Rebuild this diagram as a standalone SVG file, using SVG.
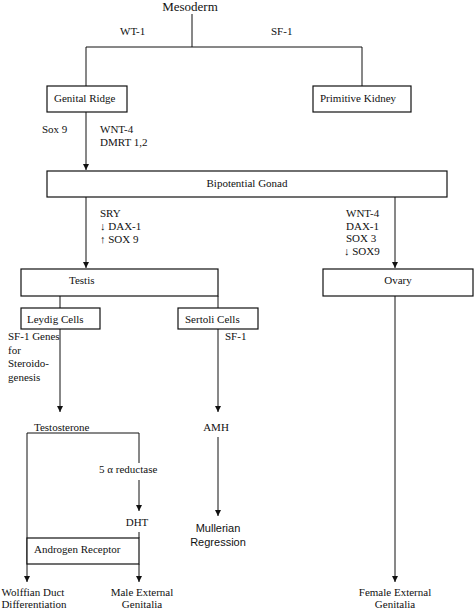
<svg xmlns="http://www.w3.org/2000/svg" width="474" height="611" viewBox="0 0 474 611">
<defs>
<style>
text{font-family:"Liberation Serif","Times New Roman",serif;font-size:11px;fill:#111}
.big{font-size:13px}
.sans{font-family:"Liberation Sans",Arial,sans-serif;font-size:11px}
.m{text-anchor:middle}
.box{fill:#fff;stroke:#111;stroke-width:1.2}
.ln{fill:none;stroke:#111;stroke-width:1}
</style>
<marker id="ah" markerUnits="userSpaceOnUse" markerWidth="6" markerHeight="7" refX="6" refY="3" orient="auto">
<path d="M0,0 L6,3 L0,6 z" fill="#111"/>
</marker>
</defs>
<rect width="474" height="611" fill="#fff"/>

<g id="connectors">
<path class="ln" d="M192,14 V47 M86,47 H362 M86,47 V86 M362,47 V86"/>
<path class="ln" d="M86,112 V170" marker-end="url(#ah)"/>
<path class="ln" d="M86,197 V268" marker-end="url(#ah)"/>
<path class="ln" d="M395,197 V268" marker-end="url(#ah)"/>
<path class="ln" d="M60,296 V308 M218,296 V308"/>
<path class="ln" d="M60,329 V412" marker-end="url(#ah)"/>
<path class="ln" d="M218,329 V412" marker-end="url(#ah)"/>
<path class="ln" d="M218,437 V516" marker-end="url(#ah)"/>
<path class="ln" d="M395,296 V582" marker-end="url(#ah)"/>
<path class="ln" d="M27,433 H139 M139,433 V463"/>
<path class="ln" d="M139,480 V511" marker-end="url(#ah)"/>
<path class="ln" d="M139,532 V538"/>
<path class="ln" d="M27,433 V582" marker-end="url(#ah)"/>
<path class="ln" d="M139,564 V582" marker-end="url(#ah)"/>
<text x="120" y="35">WT-1</text>
<text x="271" y="35">SF-1</text>
<text x="42" y="133">Sox 9</text>
<text x="100" y="133">WNT-4</text>
<text x="100" y="146">DMRT 1,2</text>
<text x="100" y="217">SRY</text>
<text x="100" y="230">↓ DAX-1</text>
<text x="100" y="243">↑ SOX 9</text>
<text x="346" y="217">WNT-4</text>
<text x="346" y="230">DAX-1</text>
<text x="346" y="242">SOX 3</text>
<text x="344" y="255">↓ SOX9</text>
<text x="8" y="340">SF-1 Genes</text>
<text x="8" y="354">for</text>
<text x="8" y="367">Steroido-</text>
<text x="8" y="381">genesis</text>
<text x="225" y="340">SF-1</text>
<text x="99" y="473">5 α reductase</text>
</g>

<g id="mesoderm"><text class="big m" x="190" y="11">Mesoderm</text></g>
<g id="genital-ridge"><rect class="box" x="47" y="86" width="80" height="26"/><text x="54" y="102">Genital Ridge</text></g>
<g id="primitive-kidney"><rect class="box" x="313" y="86" width="98" height="26"/><text x="320" y="102">Primitive Kidney</text></g>
<g id="bipotential-gonad"><rect class="box" x="47" y="171" width="400" height="26"/><text class="m" x="247" y="187">Bipotential Gonad</text></g>
<g id="testis"><rect class="box" x="21" y="269" width="197" height="27"/><text x="69" y="284">Testis</text></g>
<g id="ovary"><rect class="box" x="323" y="269" width="150" height="27"/><text class="m" x="398" y="284">Ovary</text></g>
<g id="leydig"><rect class="box" x="21" y="308" width="79" height="21"/><text x="27" y="323">Leydig Cells</text></g>
<g id="sertoli"><rect class="box" x="178" y="308" width="80" height="21"/><text x="185" y="323">Sertoli Cells</text></g>
<g id="testosterone"><text x="34" y="431">Testosterone</text></g>
<g id="amh"><text class="m" x="216" y="431">AMH</text></g>
<g id="dht"><text class="m" x="137" y="526">DHT</text></g>
<g id="mullerian"><text class="sans m" x="218" y="532">Mullerian</text><text class="sans m" x="218" y="546">Regression</text></g>
<g id="androgen-receptor"><rect class="box" x="27" y="538" width="112" height="26"/><text x="34" y="553">Androgen Receptor</text></g>
<g id="wolffian"><text class="m" x="33" y="596">Wolffian Duct</text><text class="m" x="34" y="608">Differentiation</text></g>
<g id="male-external"><text class="m" x="142" y="596">Male External</text><text class="m" x="142" y="608">Genitalia</text></g>
<g id="female-external"><text class="m" x="395" y="596">Female External</text><text class="m" x="395" y="608">Genitalia</text></g>
</svg>
